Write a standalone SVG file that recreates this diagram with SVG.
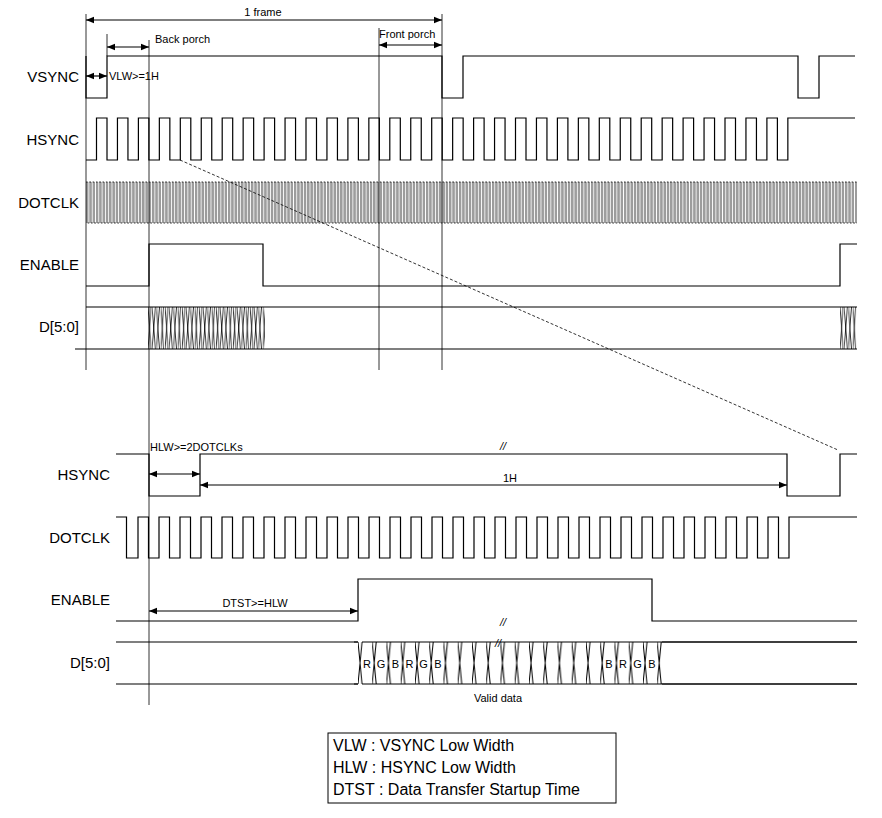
<svg xmlns="http://www.w3.org/2000/svg" width="882" height="818" viewBox="0 0 882 818">
<style>
.s{fill:none;stroke:#000;stroke-width:1.2}
.g{fill:none;stroke:#333;stroke-width:1}
.l{font-family:"Liberation Sans",Arial,sans-serif;font-size:15px;fill:#000}
.t{font-family:"Liberation Sans",Arial,sans-serif;font-size:11px;fill:#000}
.c{font-family:"Liberation Sans",Arial,sans-serif;font-size:11px;fill:#000;text-anchor:middle}
.k{font-family:"Liberation Sans",Arial,sans-serif;font-size:16px;fill:#000}
</style>
<defs>
<marker id="a" viewBox="0 0 10 10" refX="10" refY="5" markerWidth="8" markerHeight="8" orient="auto-start-reverse" markerUnits="userSpaceOnUse"><path d="M0 1L10 5L0 9z" fill="#000"/></marker>
<pattern id="dclk" patternUnits="userSpaceOnUse" x="86" y="181" width="3.3" height="43"><path d="M0 42V1H1.65V42H3.3" fill="none" stroke="#000" stroke-width="0.7"/></pattern>
<pattern id="dx" patternUnits="userSpaceOnUse" x="148" y="307" width="4.25" height="42"><path d="M0 0L3 42M0 42L3 0" fill="none" stroke="#000" stroke-width="0.8"/></pattern>
<pattern id="dx2" patternUnits="userSpaceOnUse" x="840" y="307" width="4.25" height="42"><path d="M0 0L3 42M0 42L3 0" fill="none" stroke="#000" stroke-width="0.8"/></pattern>
<pattern id="cx" patternUnits="userSpaceOnUse" x="358" y="642" width="14.25" height="42"><path d="M0 0L4 42M0 42L4 0" fill="none" stroke="#000" stroke-width="1"/></pattern>
</defs>

<g id="labels">
<text class="l" x="79" y="82" text-anchor="end">VSYNC</text>
<text class="l" x="79" y="145" text-anchor="end">HSYNC</text>
<text class="l" x="79" y="208" text-anchor="end">DOTCLK</text>
<text class="l" x="79" y="270" text-anchor="end">ENABLE</text>
<text class="l" x="79" y="332" text-anchor="end">D[5:0]</text>
<text class="l" x="110" y="480" text-anchor="end">HSYNC</text>
<text class="l" x="110" y="543" text-anchor="end">DOTCLK</text>
<text class="l" x="110" y="605" text-anchor="end">ENABLE</text>
<text class="l" x="110" y="668" text-anchor="end">D[5:0]</text>
</g>

<g id="guides">
<path class="g" d="M86 14V370M149 40V705M379 28V370M442 14V370M107 34V56"/>
</g>

<g id="vsync-top">
<path class="s" d="M86 56V98H107V56H442V98H463V56H798V98H819V56H855"/>
</g>
<g id="hsync-top">
<path class="s" d="M86 160H96.5v-42h10.5v42h10.45v-42h10.5v42h10.45v-42h10.5v42h10.45v-42h10.5v42h10.45v-42h10.5v42h10.45v-42h10.5v42h10.45v-42h10.5v42h10.45v-42h10.5v42h10.45v-42h10.5v42h10.45v-42h10.5v42h10.45v-42h10.5v42h10.45v-42h10.5v42h10.45v-42h10.5v42h10.45v-42h10.5v42h10.45v-42h10.5v42h10.45v-42h10.5v42h10.45v-42h10.5v42h10.45v-42h10.5v42h10.45v-42h10.5v42h10.45v-42h10.5v42h10.45v-42h10.5v42h10.45v-42h10.5v42h10.45v-42h10.5v42h10.45v-42h10.5v42h10.45v-42h10.5v42h10.45v-42h10.5v42h10.45v-42h10.5v42h10.45v-42h10.5v42h10.45v-42h10.5v42h10.45v-42h10.5v42h10.45v-42h10.5v42h10.45v-42h10.5v42h10.45v-42h10.5v42h10.45v-42H855"/>
</g>
<g id="dotclk-top">
<rect x="86" y="181" width="771" height="43" fill="url(#dclk)"/>
</g>
<g id="enable-top">
<path class="s" d="M86 286H149V244H263V286H840V244H857"/>
</g>
<g id="data-top">
<path class="s" d="M86 307H857M75 349H857"/>
<rect x="148" y="307" width="117" height="42" fill="url(#dx)"/>
<rect x="840" y="307" width="17" height="42" fill="url(#dx2)"/>
</g>

<g id="hsync-bot">
<path class="s" d="M116 454H149V496H200V454H787V496H840V454H857"/>
</g>
<g id="dotclk-bot">
<path class="s" d="M116 517H126.5V558H138v-41h10.5v41h10.5v-41h10.5v41h10.5v-41h10.5v41h10.5v-41h10.5v41h10.5v-41h10.5v41h10.5v-41h10.5v41h10.5v-41h10.5v41h10.5v-41h10.5v41h10.5v-41h10.5v41h10.5v-41h10.5v41h10.5v-41h10.5v41h10.5v-41h10.5v41h10.5v-41h10.5v41h10.5v-41h10.5v41h10.5v-41h10.5v41h10.5v-41h10.5v41h10.5v-41h10.5v41h10.5v-41h10.5v41h10.5v-41h10.5v41h10.5v-41h10.5v41h10.5v-41h10.5v41h10.5v-41h10.5v41h10.5v-41h10.5v41h10.5v-41h10.5v41h10.5v-41h10.5v41h10.5v-41h10.5v41h10.5v-41h10.5v41h10.5v-41h10.5v41h10.5v-41h10.5v41h10.5v-41h10.5v41h10.5v-41h10.5v41h10.5v-41H857"/>
</g>
<g id="enable-bot">
<path class="s" d="M116 621H358V579H652V621H857"/>
</g>
<g id="data-bot">
<path class="s" d="M116 642H857M116 684H857"/>
<rect x="358" y="641" width="304" height="44" fill="#fff"/>
<path class="s" d="M362 642H857M362 684H857"/>
<rect x="358" y="642" width="305" height="42" fill="url(#cx)"/>
<path class="s" d="M354 642L358 642M354 684L358 684"/>
<text class="c" x="367" y="668">R</text><text class="c" x="381" y="668">G</text><text class="c" x="395.5" y="668">B</text>
<text class="c" x="409.5" y="668">R</text><text class="c" x="423.5" y="668">G</text><text class="c" x="438" y="668">B</text>
<text class="c" x="609" y="668">B</text><text class="c" x="623" y="668">R</text><text class="c" x="637.5" y="668">G</text><text class="c" x="652" y="668">B</text>
<text class="t" x="498" y="702" text-anchor="middle">Valid data</text>
</g>

<g id="connectors">
<path class="s" d="M86 20H442" marker-start="url(#a)" marker-end="url(#a)"/>
<path class="s" d="M107 47H149" marker-start="url(#a)" marker-end="url(#a)"/>
<path class="s" d="M379 45H442" marker-start="url(#a)" marker-end="url(#a)"/>
<path class="s" d="M86 76H107" marker-start="url(#a)" marker-end="url(#a)"/>
<path class="s" d="M149 474H200" marker-start="url(#a)" marker-end="url(#a)"/>
<path class="s" d="M200 485H787" marker-start="url(#a)" marker-end="url(#a)"/>
<path class="s" d="M149 611H358" marker-start="url(#a)" marker-end="url(#a)"/>
<path fill="none" stroke="#000" stroke-width="0.8" stroke-dasharray="3,2" d="M180 160L838 450"/>
</g>

<g id="annotations">
<text class="t" x="263" y="16" text-anchor="middle">1 frame</text>
<text class="t" x="155" y="43">Back porch</text>
<text class="t" x="379" y="38">Front porch</text>
<text class="t" x="109" y="80">VLW&gt;=1H</text>
<text class="t" x="150" y="451">HLW&gt;=2DOTCLKs</text>
<text class="t" x="510" y="482" text-anchor="middle">1H</text>
<text class="t" x="255" y="607" text-anchor="middle">DTST&gt;=HLW</text>
<text class="t" x="503" y="450" text-anchor="middle" font-style="italic">//</text>
<text class="t" x="503" y="626" text-anchor="middle" font-style="italic">//</text>
<text class="t" x="498" y="647" text-anchor="middle" font-style="italic">//</text>
</g>

<g id="legend">
<rect x="328" y="733" width="288" height="70" fill="none" stroke="#000" stroke-width="1"/>
<text class="k" x="333" y="751">VLW : VSYNC Low Width</text>
<text class="k" x="333" y="773">HLW : HSYNC Low Width</text>
<text class="k" x="333" y="795">DTST : Data Transfer Startup Time</text>
</g>
</svg>
